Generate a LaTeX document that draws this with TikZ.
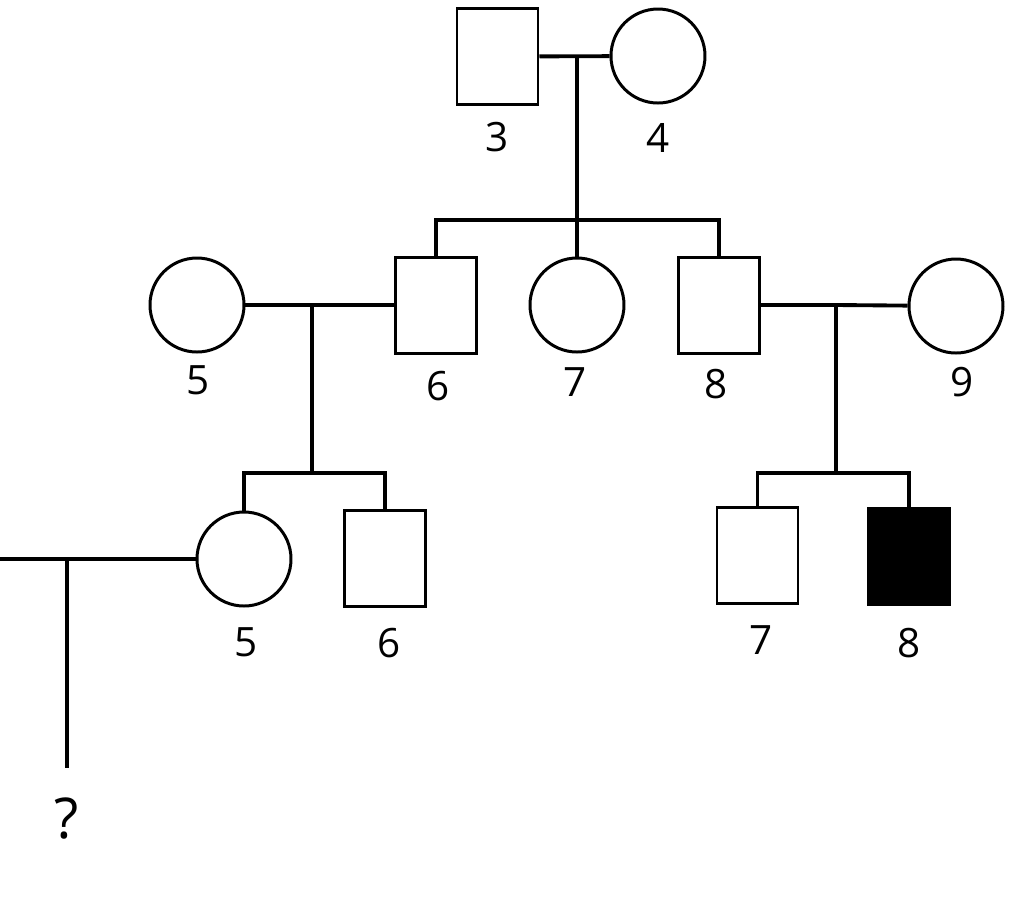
\documentclass[tikz,border=0pt]{standalone}
\usepackage{fontspec}
\setmainfont{Open Sans}
\usepackage{tikz}
\usetikzlibrary{positioning}

\begin{document}
\begin{tikzpicture}[
	male/.style = {draw, rectangle, line width=1.7pt, fill=white, minimum width=1.62cm, minimum height=1.92cm, inner sep=0pt},
	female/.style = {draw, circle, line width=1.7pt, fill=white, minimum size=1.88cm, inner sep=0pt},
	affected/.style = {fill=black},
	tag/.style = {font=\fontsize{23}{27}\selectfont, inner sep=0pt},
	link/.style = {line width=2.2pt}
	]
	\useasboundingbox (0,0) rectangle (20.48,-17.94);
	% generation I
	\node [male] (I3) at (9.95,-1.13) {};
	\node [female] (I4) at (13.16,-1.12) {};
	\node [tag] (L3) at (9.94,-2.74) {3};
	\node [tag] (L4) at (13.16,-2.76) {4};
	% generation II
	\node [female] (II5) at (3.94,-6.10) {};
	\node [male] (II6) at (8.72,-6.10) {};
	\node [female] (II7) at (11.54,-6.10) {};
	\node [male] (II8) at (14.38,-6.10) {};
	\node [female] (II9) at (19.12,-6.12) {};
	\node [tag] (L5) at (3.96,-7.60) {5};
	\node [tag] (L6) at (8.76,-7.72) {6};
	\node [tag] (L7) at (11.50,-7.64) {7};
	\node [tag] (L8) at (14.32,-7.68) {8};
	\node [tag] (L9) at (19.24,-7.64) {9};
	% generation III
	\node [female] (III5) at (4.88,-11.18) {};
	\node [male] (III6) at (7.70,-11.16) {};
	\node [male] (III7) at (15.15,-11.10) {};
	\node [male, affected] (III8) at (18.18,-11.12) {};
	\node [tag] (M5) at (4.92,-12.84) {5};
	\node [tag] (M6) at (7.78,-12.86) {6};
	\node [tag] (M7) at (15.22,-12.80) {7};
	\node [tag] (M8) at (18.18,-12.86) {8};
	\node [tag, font=\fontsize{32}{36}\selectfont] (Q) at (1.34,-16.38) {?};
	% lines
	\coordinate (m34) at (11.54,-1.12);
	\coordinate (s34) at (11.54,-4.40);
	\coordinate (m56) at (6.24,-6.10);
	\coordinate (s56) at (6.24,-9.46);
	\coordinate (m89) at (16.72,-6.10);
	\coordinate (s89) at (16.72,-9.46);
	\coordinate (edge) at (0,-11.18);
	\coordinate (mq) at (1.34,-11.18);
	\coordinate (q) at (1.34,-15.36);
	\draw [link] (I3) -- (I4);
	\draw [link] (m34) -- (s34);
	\draw [link] (II6.north) |- (s34) -| (II8.north);
	\draw [link] (s34) -- (II7.north);
	\draw [link] (II5) -- (II6);
	\draw [link] (m56) -- (s56);
	\draw [link] (III5.north) |- (s56) -| (III6.north);
	\draw [link] (II8) -- (m89) -- (II9);
	\draw [link] (m89) -- (s89);
	\draw [link] (III7.north) |- (s89) -| (III8.north);
	\draw [link] (edge) -- (III5);
	\draw [link] (mq) -- (q);
\end{tikzpicture}
\end{document}
